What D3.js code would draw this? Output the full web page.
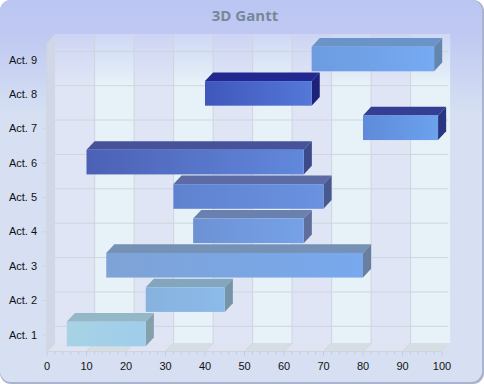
<!DOCTYPE html>
<html><head><meta charset="utf-8">
<script src="https://cdn.jsdelivr.net/npm/d3@7"></script>
<style>html,body{margin:0;padding:0;background:#fff}svg{display:block}</style></head>
<body><svg id="c" width="484" height="384"></svg>
<script>
const categories=["Act. 1","Act. 2","Act. 3","Act. 4","Act. 5","Act. 6","Act. 7","Act. 8","Act. 9"];
const startValues=[5,25,15,37,32,10,80,40,67];
const endValues=[25,45,80,65,70,65,99,67,98];
const frontLeft=["#a7d3e4","#86b2dd","#7ea3d6","#6c92d4","#5f82cf","#4c61b5","#5e8ad9","#3f57ba","#6c9be0"];
const frontRight=["#9fcdeb","#8cbaea","#78a8ee","#76a1e8","#6a92e0","#6188dc","#6ba2ee","#5478d8","#76aaf2"];
const topColors=["#94b8c8","#82a6be","#7592b6","#6a80ae","#5c6ba4","#465299","#323f95","#22288f","#6a94c8"];
const sideColors=["#84a0aa","#7694a8","#687f9f","#5e6f9c","#475a90","#3c4a8a","#2a3582","#1b2278","#6486ae"];
const xTicks=[0,10,20,30,40,50,60,70,80,90,100];
const dx=8.1,dy=8.7;
const svg=d3.select("#c");
const x=d3.scaleLinear().domain([0,100]).range([47,442]);
const y=d3.scalePoint().domain(categories).range([335,60]);
const defs=svg.append("defs");
const bg=defs.append("linearGradient").attr("id","bg").attr("x1",0).attr("x2",0).attr("y1",0).attr("y2",1);
bg.append("stop").attr("offset",0).attr("stop-color","#bbc5f2");
bg.append("stop").attr("offset",.09).attr("stop-color","#bfc9f2");
bg.append("stop").attr("offset",.3).attr("stop-color","#d6e0f2");
bg.append("stop").attr("offset",1).attr("stop-color","#d7e0f2");
const gloss=defs.append("linearGradient").attr("id","gloss").attr("x1",0).attr("x2",0).attr("y1",0).attr("y2",1);
gloss.append("stop").attr("offset",0).attr("stop-color","#c6cff3").attr("stop-opacity",.75);
gloss.append("stop").attr("offset",1).attr("stop-color","#c6cff3").attr("stop-opacity",0);
categories.forEach((c,i)=>{
 const g=defs.append("linearGradient").attr("id","bar"+i);
 g.append("stop").attr("offset",0).attr("stop-color",frontLeft[i]);
 g.append("stop").attr("offset",1).attr("stop-color",frontRight[i]);
});
svg.append("rect").attr("width",484).attr("height",384).attr("fill","#fff");
svg.append("rect").attr("x",0).attr("y",0).attr("width",484).attr("height",384).attr("rx",11).attr("fill","#aab4cf");
svg.append("rect").attr("x",0).attr("y",0).attr("width",482).attr("height",382).attr("rx",11).attr("fill","url(#bg)");
svg.append("text").attr("x",245).attr("y",21).attr("text-anchor","middle").attr("font-family","'Open Sans',sans-serif").attr("font-weight","700").attr("font-size",15).attr("fill","#76879b").text("3D Gantt");
const bx0=x(0)+dx,bx1=x(100)+dx,byTop=34,byBot=343,fy=351.5;
svg.append("path").attr("d",d3.line()([[x(0),byTop+dy],[bx0,byTop],[bx0,byBot],[x(0),fy]])+"Z").attr("fill","#d1d7e6");
d3.range(0,100,10).forEach(v=>{
 const alt=(v/10)%2===1;
 svg.append("rect").attr("x",x(v)+dx).attr("y",byTop).attr("width",x(v+10)-x(v)).attr("height",byBot-byTop).attr("fill",alt?"#e6f1f8":"#e0e5f5");
 svg.append("path").attr("d",d3.line()([[x(v)+dx,byBot],[x(v+10)+dx,byBot],[x(v+10),fy],[x(v),fy]])+"Z").attr("fill",alt?"#d4dee3":"#dfe3f2");
});
svg.append("rect").attr("x",bx0).attr("y",byTop).attr("width",bx1-bx0).attr("height",50).attr("fill","url(#gloss)");
const grid="#cfd5de";
xTicks.forEach(v=>{
 if(v>0&&v<100) svg.append("line").attr("x1",x(v)+dx).attr("x2",x(v)+dx).attr("y1",byTop).attr("y2",byBot).attr("stroke",grid);
 if(v<100) svg.append("line").attr("x1",x(v)).attr("x2",x(v)+dx).attr("y1",fy).attr("y2",byBot).attr("stroke",grid);
});
categories.forEach(c=>{
 const py=y(c);
 svg.append("path").attr("d",d3.line()([[x(0)-5,py],[x(0),py],[bx0,py-dy],[bx1-2,py-dy]])).attr("fill","none").attr("stroke",grid);
});
svg.append("line").attr("x1",x(0)).attr("x2",x(0)).attr("y1",byTop+dy).attr("y2",fy).attr("stroke",grid);
svg.append("line").attr("x1",x(0)).attr("x2",x(100)).attr("y1",fy).attr("y2",fy).attr("stroke",grid);
d3.range(0,100.1,2).forEach(v=>{
 svg.append("line").attr("x1",x(v)).attr("x2",x(v)).attr("y1",fy).attr("y2",fy+(v%10===0?4:3)).attr("stroke","#c4cad8");
});
const tf="'Liberation Sans',Arial,sans-serif";
xTicks.forEach(v=>svg.append("text").attr("x",x(v)).attr("y",370).attr("text-anchor","middle").attr("font-family",tf).attr("font-size",11).attr("fill","#111").text(v));
categories.forEach(c=>svg.append("text").attr("x",37).attr("y",y(c)+3.5).attr("text-anchor","end").attr("font-family",tf).attr("font-size",11).attr("fill","#111").text(c));
d3.range(categories.length-1,-1,-1).forEach(i=>{
 const c=categories[i],x0=x(startValues[i]),x1=x(endValues[i]);
 const top=y(c)-13.3,bot=top+24.6;
 svg.append("path").attr("d",d3.line()([[x0,top],[x0+dx,top-dy],[x1+dx,top-dy],[x1,top]])+"Z").attr("fill",topColors[i]);
 svg.append("path").attr("d",d3.line()([[x1,top],[x1+dx,top-dy],[x1+dx,bot-dy],[x1,bot]])+"Z").attr("fill",sideColors[i]);
 svg.append("rect").attr("x",x0).attr("y",top).attr("width",x1-x0).attr("height",bot-top).attr("fill","url(#bar"+i+")");
});
</script></body></html>
